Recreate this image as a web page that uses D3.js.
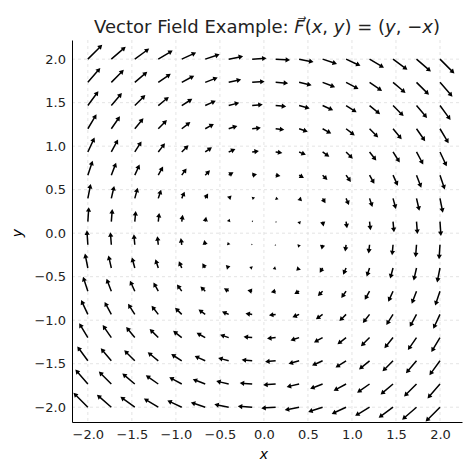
<!DOCTYPE html>
<html><head><meta charset="utf-8">
<script src="https://cdn.jsdelivr.net/npm/d3@7"></script>
<style>body{margin:0;background:#fff}text{font-family:"DejaVu Sans",sans-serif}</style>
</head><body>
<svg id="c" width="474" height="474"></svg>
<script>
// grid (np.linspace(-2, 2, 16)) and field F(x, y) = (y, -x)
var gridX = [-2, -1.7333, -1.4667, -1.2, -0.9333, -0.6667, -0.4, -0.1333, 0.1333, 0.4, 0.6667, 0.9333, 1.2, 1.4667, 1.7333, 2];
var gridY = gridX.slice();
var xTicks = [-2, -1.5, -1, -0.5, 0, 0.5, 1, 1.5, 2];
var yTicks = [-2, -1.5, -1, -0.5, 0, 0.5, 1, 1.5, 2];

var svg = d3.select('#c');
var pLeft = 72, pRight = 462, pTop = 40, pBottom = 422;
var x = d3.scaleLinear().domain([-2.18, 2.25]).range([pLeft, pRight]);
var y = d3.scaleLinear().domain([-2.17, 2.22]).range([pBottom, pTop]);

// grid lines
svg.append('g').selectAll('line').data(xTicks).join('line')
    .attr('x1', d => x(d)).attr('x2', d => x(d)).attr('y1', pTop).attr('y2', pBottom)
    .attr('stroke', '#ddd').attr('stroke-dasharray', '3,3').attr('stroke-width', 0.8);
svg.append('g').selectAll('line').data(yTicks).join('line')
    .attr('y1', d => y(d)).attr('y2', d => y(d)).attr('x1', pLeft).attr('x2', pRight)
    .attr('stroke', '#ddd').attr('stroke-dasharray', '3,3').attr('stroke-width', 0.8);

// arrows
var pts = [];
gridY.forEach(function (gy) {
    gridX.forEach(function (gx) { pts.push({x: gx, y: gy, u: gy, v: -gx}); });
});
var k = 7.2; // px per unit of magnitude
var g = svg.append('g');
pts.forEach(function (p) {
    var dx = p.u * k, dy = -p.v * k;
    var len = Math.sqrt(dx * dx + dy * dy);
    if (len < 0.01) return;
    var x0 = x(p.x), y0 = y(p.y);
    var a = Math.atan2(dy, dx) * 180 / Math.PI;
    var hl = Math.min(4.5, len), hw = Math.min(2.6, len * 0.6), sw = Math.min(0.75, len * 0.2);
    var path = 'M0,' + (-sw) + 'L' + (len - hl) + ',' + (-sw) + 'L' + (len - hl) + ',' + (-hw) +
        'L' + len + ',0L' + (len - hl) + ',' + hw + 'L' + (len - hl) + ',' + sw + 'L0,' + sw + 'Z';
    g.append('path').attr('d', path).attr('fill', '#000')
        .attr('transform', 'translate(' + x0 + ',' + y0 + ') rotate(' + a + ')');
});

// axes
var xa = svg.append('g').attr('transform', 'translate(0,' + pBottom + ')')
    .call(d3.axisBottom(x).tickValues(xTicks).tickSize(0).tickPadding(8));
var ya = svg.append('g').attr('transform', 'translate(' + pLeft + ',0)')
    .call(d3.axisLeft(y).tickValues(yTicks).tickSize(0).tickPadding(6));
[xa, ya].forEach(function (a) {
    a.selectAll('text').attr('font-size', 13).attr('fill', '#222')
        .text(function (d) { return d3.format('.1f')(d).replace('-', '\u2212'); });
    a.select('.domain').attr('stroke', '#000').attr('stroke-width', 1);
});

svg.append('text').attr('x', x(0)).attr('y', 459).attr('text-anchor', 'middle')
    .attr('font-size', 14).attr('font-style', 'italic').text('x');
svg.append('text').attr('transform', 'translate(22,' + y(0) + ') rotate(-90)')
    .attr('text-anchor', 'middle').attr('font-size', 14).attr('font-style', 'italic').text('y');

var t = svg.append('text').attr('x', 267).attr('y', 33).attr('text-anchor', 'middle').attr('font-size', 18).attr('fill', '#222');
t.append('tspan').text('Vector Field Example: ');
t.append('tspan').attr('font-style', 'italic').text('F\u20D7');
t.append('tspan').text('(');
t.append('tspan').attr('font-style', 'italic').text('x');
t.append('tspan').text(', ');
t.append('tspan').attr('font-style', 'italic').text('y');
t.append('tspan').text(') = (');
t.append('tspan').attr('font-style', 'italic').text('y');
t.append('tspan').text(', \u2212');
t.append('tspan').attr('font-style', 'italic').text('x');
t.append('tspan').text(')');
</script>
</body></html>
